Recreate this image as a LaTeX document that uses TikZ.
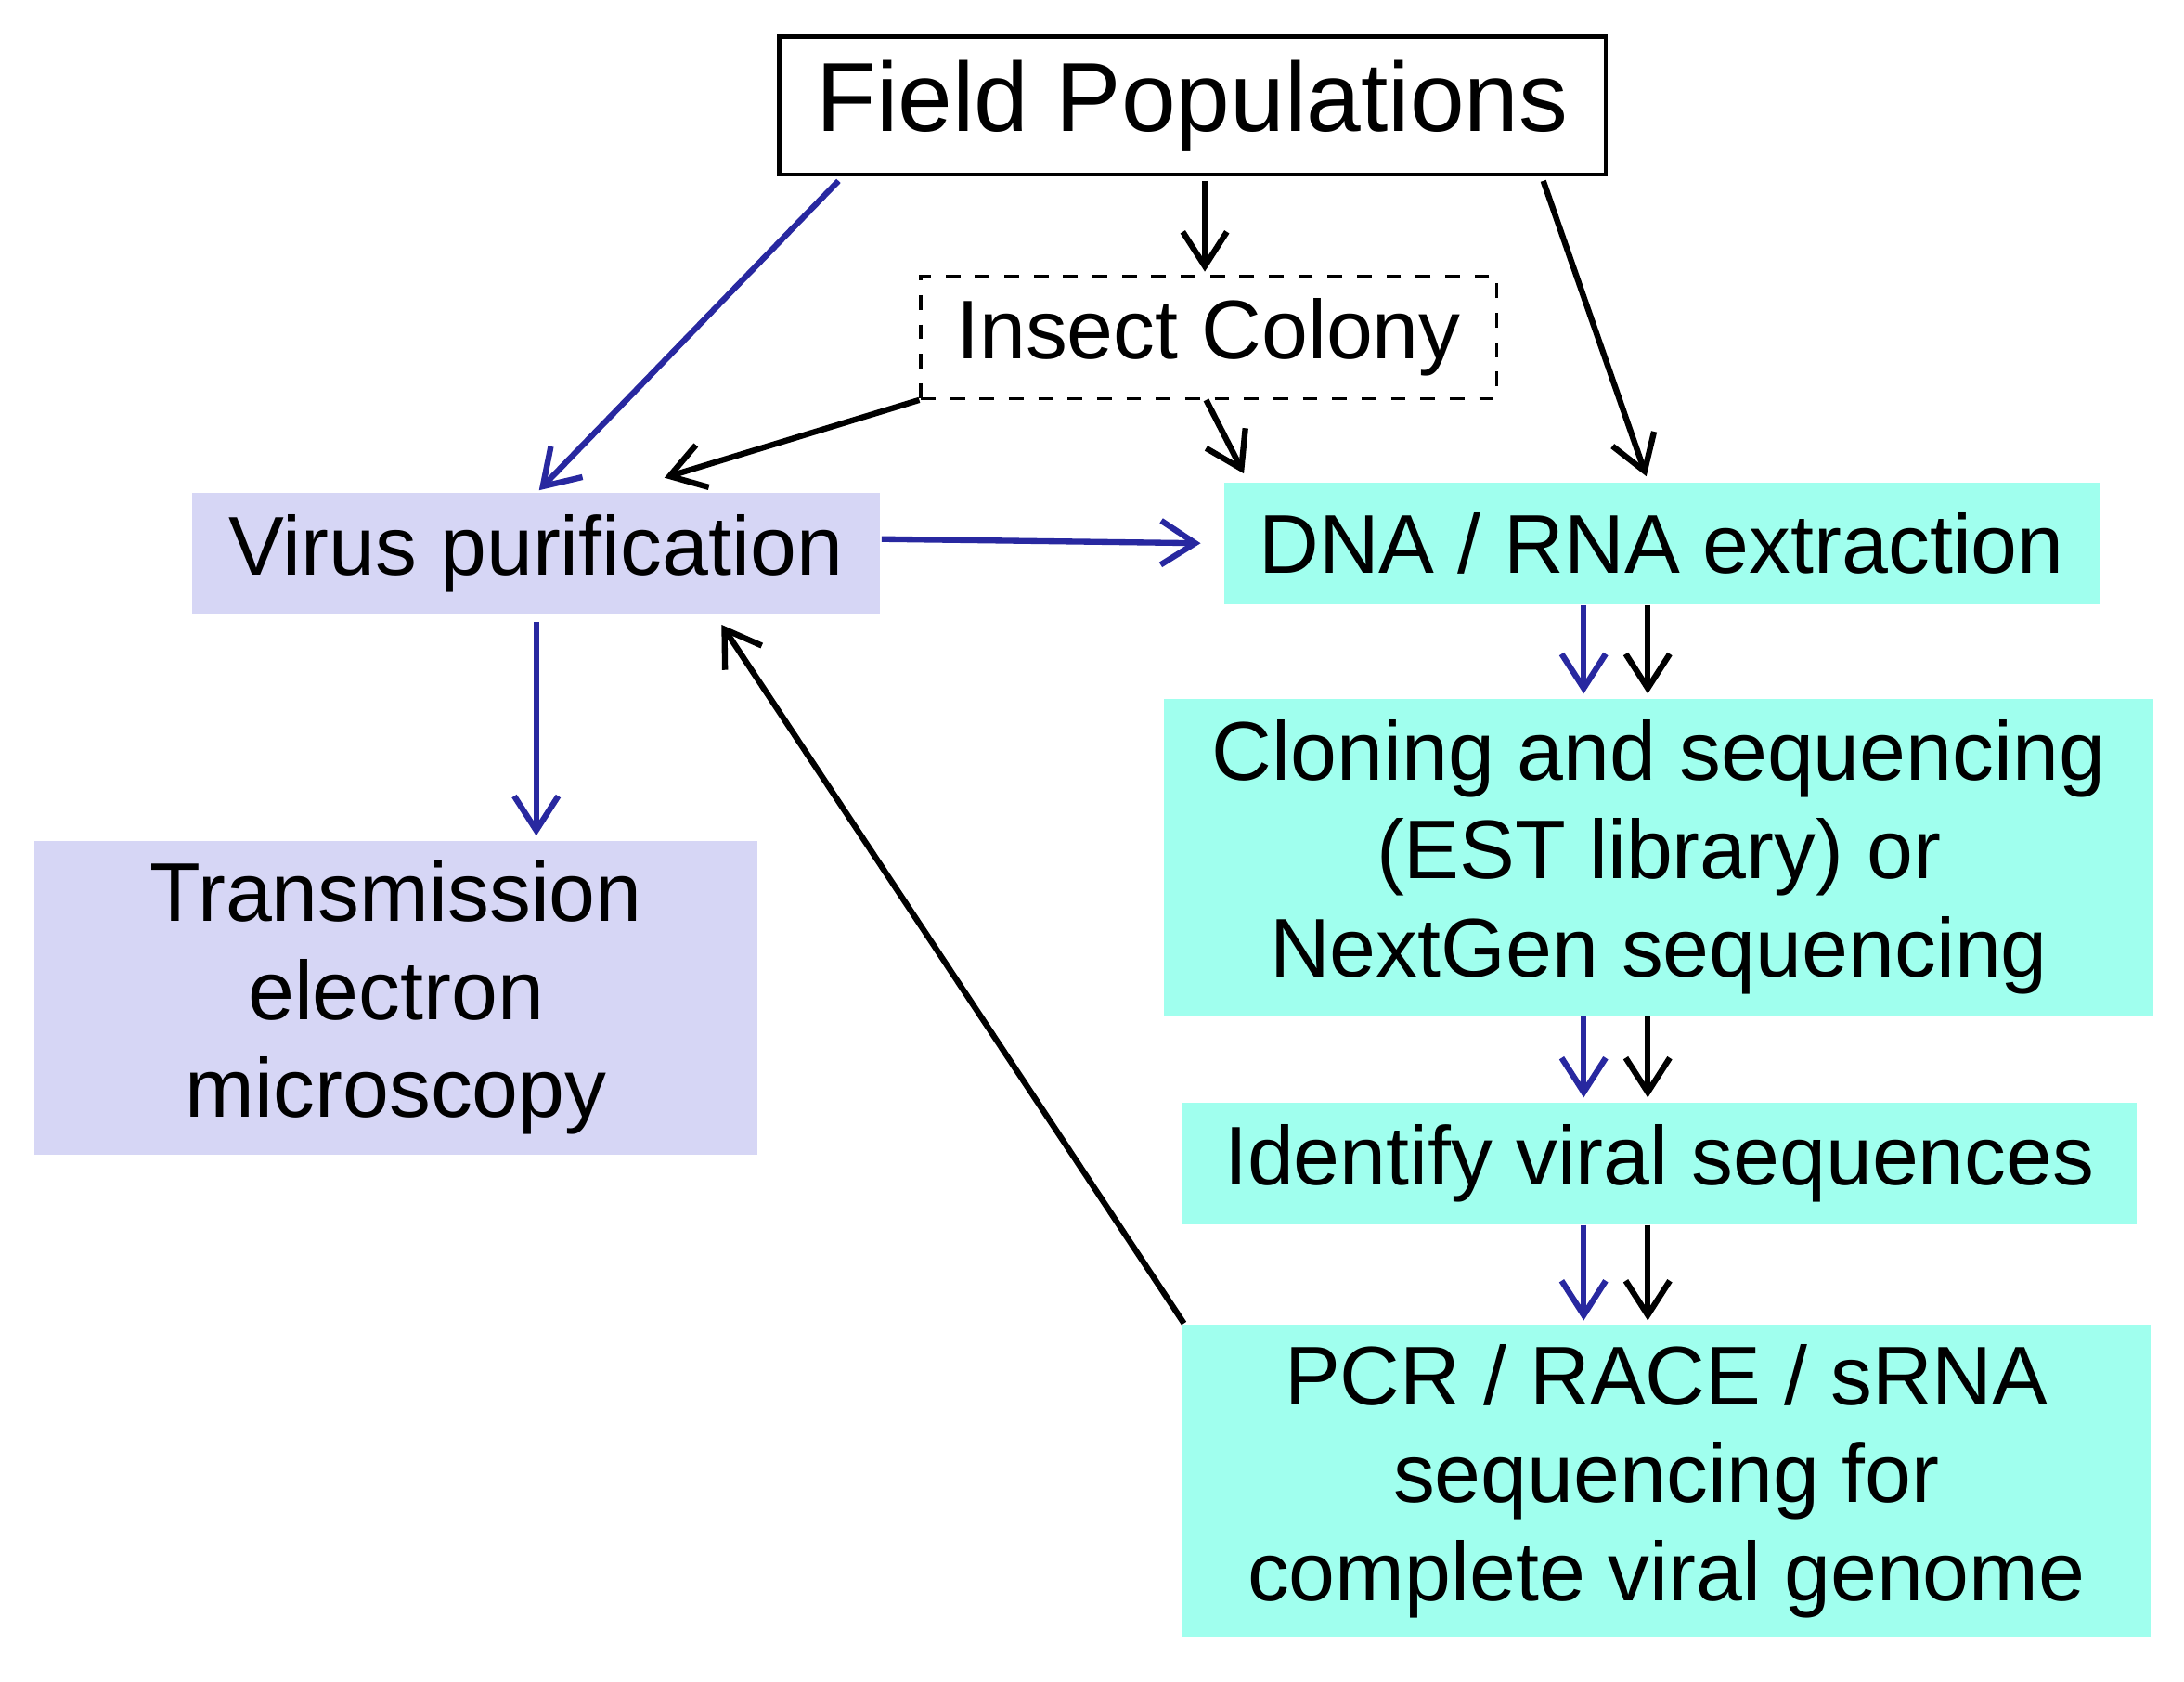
\documentclass[tikz,border=0pt]{standalone}
\usepackage{fontspec}
\setmainfont{Liberation Sans}
\usetikzlibrary{calc,arrows.meta}
\definecolor{lav}{RGB}{214,214,245}
\definecolor{cy}{RGB}{160,255,238}
\definecolor{bl}{RGB}{40,40,160}
\begin{document}
\begin{tikzpicture}[x=0.01cm,y=-0.01cm,
  box/.style={anchor=north west,inner sep=0pt,align=center,font=\fontsize{17}{20}\selectfont},
  ar/.style={-{Straight Barb[length=7pt,width=9pt,line width=1.2pt]},line width=1.2pt},
  arb/.style={ar,draw=bl}]
\useasboundingbox (0,0) rectangle (1568,1207);
\node[box,draw=black,line width=0.8pt,minimum width=5.93cm,minimum height=0.99cm,font=\fontsize{20}{24}\selectfont] (fp) at (558,25) {Field Populations};
\node[box,draw=black,dashed,line width=0.6pt,minimum width=4.13cm,minimum height=0.88cm] (ic) at (660,197) {Insect Colony};
\node[box,fill=lav,minimum width=4.94cm,minimum height=0.87cm] (vp) at (137,353) {Virus purification};
\node[box,fill=cy,minimum width=6.28cm,minimum height=0.87cm] (dna) at (878,346) {DNA / RNA extraction};
\node[box,fill=cy,minimum width=7.10cm,minimum height=2.27cm] (cl) at (835,501) {Cloning and sequencing\\(EST library) or\\NextGen sequencing};
\node[box,fill=cy,minimum width=6.85cm,minimum height=0.87cm] (id) at (848,791) {Identify viral sequences};
\node[box,fill=cy,minimum width=6.95cm,minimum height=2.25cm] (pcr) at (848,950) {PCR / RACE / sRNA\\sequencing for\\complete viral genome};
\node[box,fill=lav,minimum width=5.19cm,minimum height=2.25cm] (tem) at (24,603) {Transmission\\electron\\microscopy};
\draw[ar] ($(fp.south west)+(307,3)$) -- ($(ic.north west)+(205,-2)$);
\draw[arb] ($(fp.south west)+(44,3)$) -- ($(vp.north west)+(250,-1)$);
\draw[ar] ($(fp.south west)+(550,3)$) -- ($(dna.north west)+(304,-4)$);
\draw[ar] (ic.south west) -- ($(vp.north west)+(340,-10)$);
\draw[ar] ($(ic.south west)+(206,0)$) -- ($(dna.north west)+(15,-6)$);
\draw[arb] ($(vp.north west)+(496,34)$) -- ($(dna.north west)+(-16,44)$);
\draw[arb] ($(vp.south west)+(248,5)$) -- ($(tem.north west)+(361,-3)$);
\draw[arb] ($(dna.south west)+(259,0)$) -- ($(cl.north west)+(302,-3)$);
\draw[ar] ($(dna.south west)+(305,0)$) -- ($(cl.north west)+(348,-3)$);
\draw[arb] ($(cl.south west)+(302,0)$) -- ($(id.north west)+(289,-3)$);
\draw[ar] ($(cl.south west)+(348,0)$) -- ($(id.north west)+(335,-3)$);
\draw[arb] ($(id.south west)+(289,0)$) -- ($(pcr.north west)+(289,-2)$);
\draw[ar] ($(id.south west)+(335,0)$) -- ($(pcr.north west)+(335,-2)$);
\draw[ar] ($(pcr.north west)+(2,0)$) -- ($(vp.south west)+(381,7)$);
\end{tikzpicture}
\end{document}
